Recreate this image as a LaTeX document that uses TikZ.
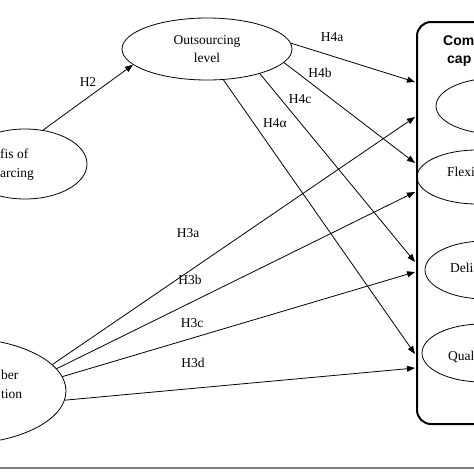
\documentclass[tikz,border=0pt]{standalone}
\usepackage{fontspec}
\setmainfont{Liberation Serif}
\newfontfamily\boxfont{Liberation Sans}
\usetikzlibrary{shapes.geometric,arrows.meta}
\begin{document}
\begin{tikzpicture}[x=1pt,y=-1pt,
  oval/.style={draw, ellipse, line width=0.8pt, inner sep=0pt},
  conn/.style={line width=0.8pt},
  arr/.style={conn, -{Triangle[length=8pt,width=6pt]}},
  lbl/.style={font=\fontsize{13.5}{16}\selectfont, inner sep=0pt},
  txt/.style={font=\fontsize{13.5}{18}\selectfont, inner sep=0pt, anchor=base west},
  hdr/.style={font=\boxfont\bfseries\fontsize{14}{16}\selectfont, inner sep=0pt, anchor=base west}]
\fill[white] (0,0) rectangle (474,474);
\useasboundingbox (0,0) rectangle (474,474);

% outer box of competitive capabilities
\node (box) [draw, line width=2pt, rounded corners=14pt, minimum width=140pt, minimum height=402pt, anchor=north west, inner sep=0pt] at (416,21) {};
\node (hd1) [hdr] at (443,45) {Com};
\node (hd2) [hdr] at (447,63) {cap};

% inner ellipses
\node (c1) [oval, minimum width=120pt, minimum height=56pt] at (496,106) {};
\node (c2) [oval, minimum width=120pt, minimum height=54pt] at (477,177) {};
\node (c3) [oval, minimum width=120pt, minimum height=58pt] at (485,270) {};
\node (c4) [oval, minimum width=120pt, minimum height=58pt] at (482,353) {};
\node (c2t) [txt] at (447,176) {Flexi};
\node (c3t) [txt] at (450,272) {Deli};
\node (c4t) [txt] at (448,360) {Qual};

% left and top constructs
\node (out) [oval, minimum width=170pt, minimum height=62pt, align=center, font=\fontsize{13.5}{18}\selectfont] at (207,49) {Outsourcing\\level};
\node (ben) [oval, minimum width=124pt, minimum height=70pt] at (25,164) {};
\node (bent1) [txt] at (0,158) {fis of};
\node (bent2) [txt] at (0,177) {arcing};
\node (sup) [oval, minimum width=212pt, minimum height=106pt] at (-40,391) {};
\node (supt1) [txt] at (1,379) {ber};
\node (supt2) [txt] at (1,398) {tion};

% arrow end points on the box
\coordinate (t1) at (415,82);
\coordinate (t2) at (415,117);
\coordinate (t3) at (415,163);
\coordinate (t4) at (415,192);
\coordinate (t5) at (415,262);
\coordinate (t6) at (415,272);
\coordinate (t7) at (415,354);
\coordinate (t8) at (415,368);

% connectors
\draw[arr] (ben.62) -- (out.192);
\draw[arr] (out.4) -- (t1);
\draw[arr] (out.-10.4) -- (t3);
\draw[arr] (out.-25.2) -- (t5);
\draw[arr] (out.-62.7) -- (t7);
\draw[arr] (sup.16.9) -- (t2);
\draw[arr] (sup.13.6) -- (t4);
\draw[arr] (sup.8.3) -- (t6);
\draw[arr] (sup.-5.3) -- (t8);

% labels
\node (h2) [lbl] at (88,82) {H2};
\node (h4a) [lbl] at (332,37) {H4a};
\node (h4b) [lbl] at (320,73) {H4b};
\node (h4c) [lbl] at (300,99) {H4c};
\node (h4d) [lbl] at (275,123) {H4α};
\node (h3a) [lbl] at (188,233) {H3a};
\node (h3b) [lbl] at (190,280) {H3b};
\node (h3c) [lbl] at (192,323) {H3c};
\node (h3d) [lbl] at (193,363) {H3d};

% bottom border line
\draw[gray, line width=1.5pt] (0,468) -- (474,468);
\end{tikzpicture}
\end{document}
